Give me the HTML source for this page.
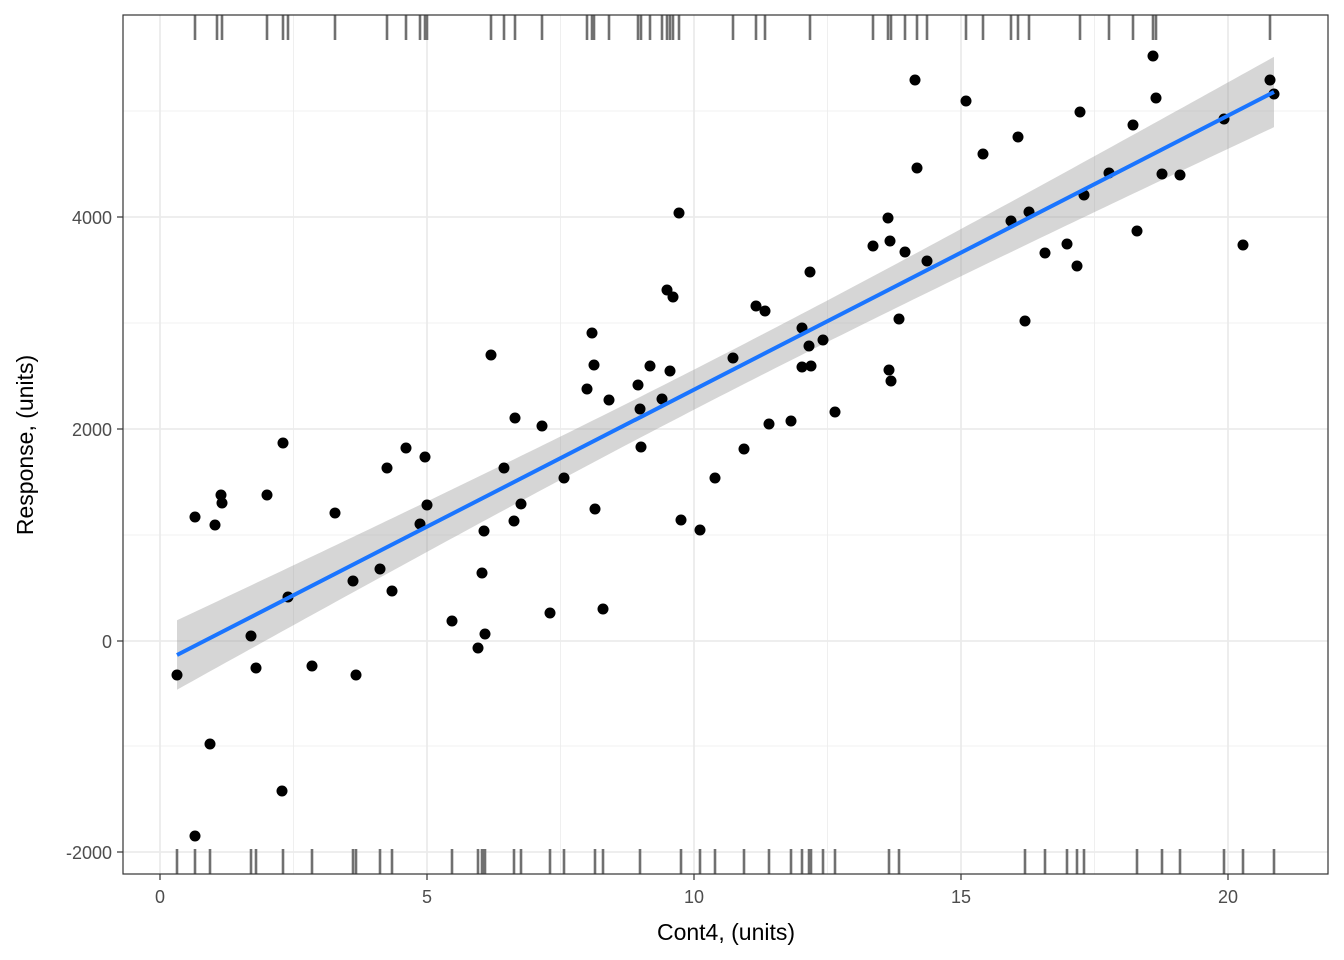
<!DOCTYPE html>
<html><head><meta charset="utf-8"><style>html,body{margin:0;padding:0;background:#fff}svg{display:block}</style></head>
<body>
<svg id="s" width="1344" height="960" xmlns="http://www.w3.org/2000/svg" font-family="Liberation Sans, Arial, sans-serif">
<rect width="1344" height="960" fill="#fff"/>
<g stroke="#ebebeb" stroke-width="0.8">
<line x1="293.5" y1="15" x2="293.5" y2="874"/><line x1="560.5" y1="15" x2="560.5" y2="874"/><line x1="827.5" y1="15" x2="827.5" y2="874"/><line x1="1094.5" y1="15" x2="1094.5" y2="874"/>
<line x1="123" y1="111" x2="1328" y2="111"/><line x1="123" y1="323" x2="1328" y2="323"/><line x1="123" y1="535" x2="1328" y2="535"/><line x1="123" y1="746" x2="1328" y2="746"/>
</g>
<g stroke="#ebebeb" stroke-width="1.8">
<line x1="160" y1="15" x2="160" y2="874"/><line x1="427" y1="15" x2="427" y2="874"/><line x1="694" y1="15" x2="694" y2="874"/><line x1="961" y1="15" x2="961" y2="874"/><line x1="1228" y1="15" x2="1228" y2="874"/>
<line x1="123" y1="217" x2="1328" y2="217"/><line x1="123" y1="429" x2="1328" y2="429"/><line x1="123" y1="641" x2="1328" y2="641"/><line x1="123" y1="852" x2="1328" y2="852"/>
</g>
<g id="dyn"></g>
<rect x="123" y="15" width="1205" height="859" fill="none" stroke="#333" stroke-width="1.2"/>
<g stroke="#333" stroke-width="1.2">
<line x1="160" y1="874" x2="160" y2="880"/><line x1="427" y1="874" x2="427" y2="880"/><line x1="694" y1="874" x2="694" y2="880"/><line x1="961" y1="874" x2="961" y2="880"/><line x1="1228" y1="874" x2="1228" y2="880"/>
<line x1="117" y1="217" x2="123" y2="217"/><line x1="117" y1="429" x2="123" y2="429"/><line x1="117" y1="641" x2="123" y2="641"/><line x1="117" y1="852" x2="123" y2="852"/>
</g>
<g font-size="18" fill="#4d4d4d" text-anchor="middle">
<text x="160" y="903">0</text><text x="427" y="903">5</text><text x="694" y="903">10</text><text x="961" y="903">15</text><text x="1228" y="903">20</text>
</g>
<g font-size="18" fill="#4d4d4d" text-anchor="end">
<text x="112" y="224">4000</text><text x="112" y="436">2000</text><text x="112" y="648">0</text><text x="112" y="859">-2000</text>
</g>
<text x="726" y="940" font-size="23" text-anchor="middle" fill="#000">Cont4, (units)</text>
<text transform="translate(33,445) rotate(-90)" font-size="23" text-anchor="middle" fill="#000">Response, (units)</text>
</svg>
<script>
(function(){
var NS="http://www.w3.org/2000/svg",g=document.getElementById("dyn");
function el(n,a){var e=document.createElementNS(NS,n);for(var k in a)e.setAttribute(k,a[k]);g.appendChild(e);return e;}
var topR=[195,217,222,267,283,288,335,387,406,420,425,427,491,504,515,542,587,592,594,609,638,641,650,662,667,670,673,679,733,756,765,810,873,888,891,905,917,927,966,983,1011,1018,1029,1080,1109,1133,1153,1156,1270];
var botR=[177,195,210,251,256,283,312,353,356,380,392,452,478,482,484,485,514,521,550,564,595,603,640,681,700,715,744,769,791,802,809,811,823,835,889,899,1025,1045,1067,1077,1084,1137,1162,1180,1224,1243,1274];
topR.forEach(function(x){el("line",{x1:x,y1:15,x2:x,y2:40,stroke:"#707070","stroke-width":2.6});});
botR.forEach(function(x){el("line",{x1:x,y1:849,x2:x,y2:874,stroke:"#707070","stroke-width":2.6});});
var x0=177,y0=655,x1=1274,y1=92,m=(y1-y0)/(x1-x0);
function ly(x){return y0+m*(x-x0);}
function hw(x){return Math.sqrt(400+0.00273*(x-720)*(x-720));}
var up=[],dn=[];for(var x=x0;x<=x1;x+=8){up.push(x+","+(ly(x)-hw(x)));dn.unshift(x+","+(ly(x)+hw(x)));}
up.push(x1+","+(ly(x1)-hw(x1)));dn.unshift(x1+","+(ly(x1)+hw(x1)));
el("polygon",{points:up.concat(dn).join(" "),fill:"#999",opacity:0.4});
var p=[[177,675],[195,517],[195,836],[210,744],[215,525],[221,495],[222,503],[251,636],[256,668],[267,495],[282,791],[283,443],[288,597],[312,666],[335,513],[353,581],[356,675],[380,569],[387,468],[392,591],[406,448],[420,524],[425,457],[427,505],[452,621],[478,648],[482,573],[484,531],[485,634],[491,355],[504,468],[514,521],[515,418],[521,504],[542,426],[550,613],[564,478],[587,389],[592,333],[594,365],[595,509],[603,609],[609,400],[638,385],[640,409],[641,447],[650,366],[662,399],[667,290],[670,371],[673,297],[679,213],[681,520],[700,530],[715,478],[733,358],[744,449],[756,306],[765,311],[769,424],[791,421],[802,367],[802,328],[809,346],[810,272],[811,366],[823,340],[835,412],[873,246],[888,218],[889,370],[890,241],[891,381],[899,319],[905,252],[915,80],[917,168],[927,261],[966,101],[983,154],[1011,221],[1018,137],[1025,321],[1029,212],[1045,253],[1067,244],[1077,266],[1080,112],[1084,195],[1109,173],[1133,125],[1137,231],[1153,56],[1156,98],[1162,174],[1180,175],[1224,119],[1243,245],[1270,80],[1274,94]];
p.forEach(function(q){el("circle",{cx:q[0],cy:q[1],r:5.5,fill:"#000"});});
el("line",{x1:x0,y1:y0,x2:x1,y2:y1,stroke:"#1a75ff","stroke-width":4});
})();
</script>
</body></html>
